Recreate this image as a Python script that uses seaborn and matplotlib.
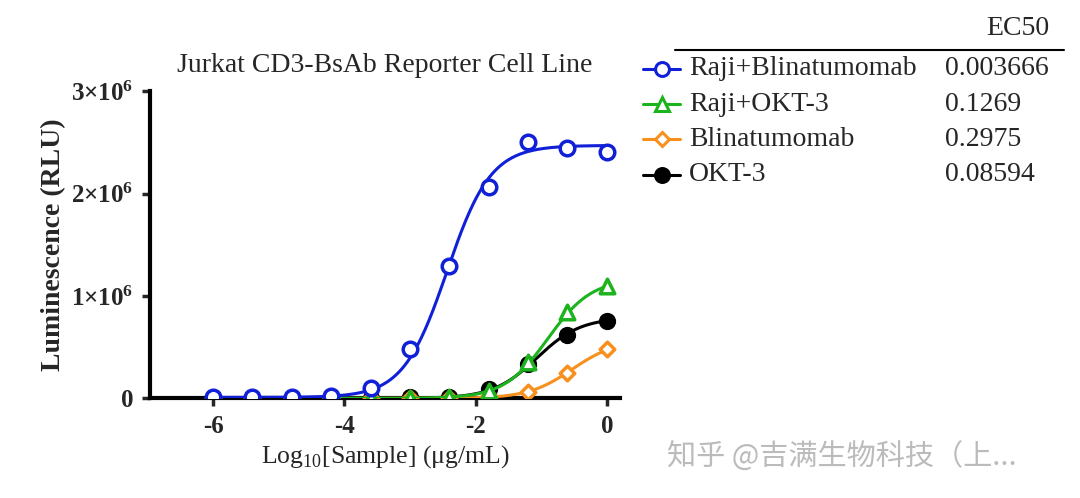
import matplotlib
matplotlib.use("Agg")
import matplotlib.pyplot as plt
import numpy as np
import pandas as pd
import seaborn as sns

# log10 concentration (ug/mL)
log_conc = [-6.0, -5.4, -4.8, -4.2, -3.6, -3.0, -2.4, -1.8, -1.2, -0.6, 0.0]
series = ["Raji+Blinatumomab", "Raji+OKT-3", "Blinatumomab", "OKT-3"]
ec50 = ["0.003666", "0.1269", "0.2975", "0.08594"]
rlu = {
    "Raji+Blinatumomab": [0.01, 0.01, 0.01, 0.02, 0.10, 0.48, 1.29, 2.06, 2.50, 2.44, 2.41],
    "Raji+OKT-3": [0.0, 0.0, 0.0, 0.0, 0.0, 0.0, 0.01, 0.07, 0.36, 0.84, 1.10],
    "Blinatumomab": [0.0, 0.0, 0.0, 0.0, 0.0, 0.0, 0.0, 0.02, 0.06, 0.25, 0.48],
    "OKT-3": [0.0, 0.0, 0.0, 0.0, 0.0, 0.01, 0.01, 0.09, 0.34, 0.62, 0.76],
}
# 4PL fit parameters (bottom, top, hill), EC50 from the table
fit = {
    "Raji+Blinatumomab": (0.01, 2.47, 1.3),
    "Raji+OKT-3": (0.0, 1.17, 1.3),
    "Blinatumomab": (0.0, 0.57, 1.3),
    "OKT-3": (0.0, 0.79, 1.3),
}
colors = {"Raji+Blinatumomab": "#1020d8", "Raji+OKT-3": "#1db31d",
          "Blinatumomab": "#f7901e", "OKT-3": "#000000"}
markers = {"Raji+Blinatumomab": "o", "Raji+OKT-3": "^",
           "Blinatumomab": "D", "OKT-3": "o"}
filled = {"Raji+Blinatumomab": False, "Raji+OKT-3": False,
          "Blinatumomab": False, "OKT-3": True}

sns.set_style("white")
plt.rcParams["font.family"] = ["Liberation Serif", "Noto Sans CJK SC", "DejaVu Sans"]
plt.rcParams["mathtext.fontset"] = "custom"
plt.rcParams["mathtext.rm"] = "Liberation Serif"
plt.rcParams["mathtext.bf"] = "Liberation Serif:bold"

fig = plt.figure(figsize=(10.8, 4.98), dpi=100)
ax = fig.add_axes([0.139, 0.2, 0.435, 0.617])

xs = np.linspace(-6, 0, 300)
order = ["OKT-3", "Blinatumomab", "Raji+OKT-3", "Raji+Blinatumomab"]
for i, name in enumerate(order):
    bottom, top, hill = fit[name]
    logec = np.log10(float(ec50[series.index(name)]))
    ys = bottom + (top - bottom) / (1 + 10 ** ((logec - xs) * hill))
    df = pd.DataFrame({"x": xs, "y": ys * 1e6})
    sns.lineplot(data=df, x="x", y="y", ax=ax, color=colors[name], lw=2.2, zorder=2 + i)
    pts = pd.DataFrame({"x": log_conc, "y": np.array(rlu[name]) * 1e6})
    ms = 110 if markers[name] != "D" else 55
    if filled[name]:
        sns.scatterplot(data=pts, x="x", y="y", ax=ax, marker=markers[name], s=ms * 1.2,
                        color=colors[name], edgecolor=colors[name], zorder=3 + i)
    else:
        sns.scatterplot(data=pts, x="x", y="y", ax=ax, marker=markers[name], s=ms,
                        facecolor="white", edgecolor=colors[name], linewidth=2.5, zorder=3 + i)

ax.set_xlim(-6.96, 0.2)
ax.set_ylim(0, 3e6)
ax.set_xticks([-6, -4, -2, 0])
ax.set_xticklabels(["-6", "-4", "-2", "0"])
ax.set_yticks([0, 1e6, 2e6, 3e6])
ax.set_yticklabels(["0", r"$\mathbf{1{\times}10^6}$", r"$\mathbf{2{\times}10^6}$", r"$\mathbf{3{\times}10^6}$"])
for lab in ax.get_xticklabels() + ax.get_yticklabels():
    lab.set_fontweight("bold")
    lab.set_fontsize(18)
ax.tick_params(direction="out", length=6, width=2.5, left=True, bottom=True, pad=6)
for s in ["top", "right"]:
    ax.spines[s].set_visible(False)
for s in ["left", "bottom"]:
    ax.spines[s].set_linewidth(3)
    ax.spines[s].set_color("black")
ax.set_xlabel(r"Log$_{10}$[Sample] (μg/mL)", fontsize=18.5)
ax.set_ylabel("Luminescence (RLU)", fontsize=20, fontweight="bold")
ax.set_title("Jurkat CD3-BsAb Reporter Cell Line", fontsize=20, pad=14)

# legend table
fig.text(0.972, 0.93, "EC50", ha="right", fontsize=20)
fig.add_artist(plt.Line2D([0.625, 0.985], [0.9, 0.9], color="black", lw=1.5))
for i, name in enumerate(series):
    y = 0.862 - i * 0.071
    fig.add_artist(plt.Line2D([0.595, 0.63], [y, y], color=colors[name], lw=2.2))
    fc = colors[name] if filled[name] else "white"
    msz = 10 if markers[name] != "D" else 7
    fig.add_artist(plt.Line2D([0.6125], [y], marker=markers[name], markersize=msz,
                              markerfacecolor=fc, markeredgecolor=colors[name],
                              markeredgewidth=2.2, color=colors[name]))
    fig.text(0.638, y, name, va="center", fontsize=20)
    fig.text(0.875, y, ec50[i], va="center", fontsize=20)

fig.text(0.618, 0.065, "知乎 @吉满生物科技（上...", fontsize=21, color="#bbbbbb",
         family=["Noto Sans CJK SC", "DejaVu Sans"])

fig.savefig("out.png", dpi=100)
